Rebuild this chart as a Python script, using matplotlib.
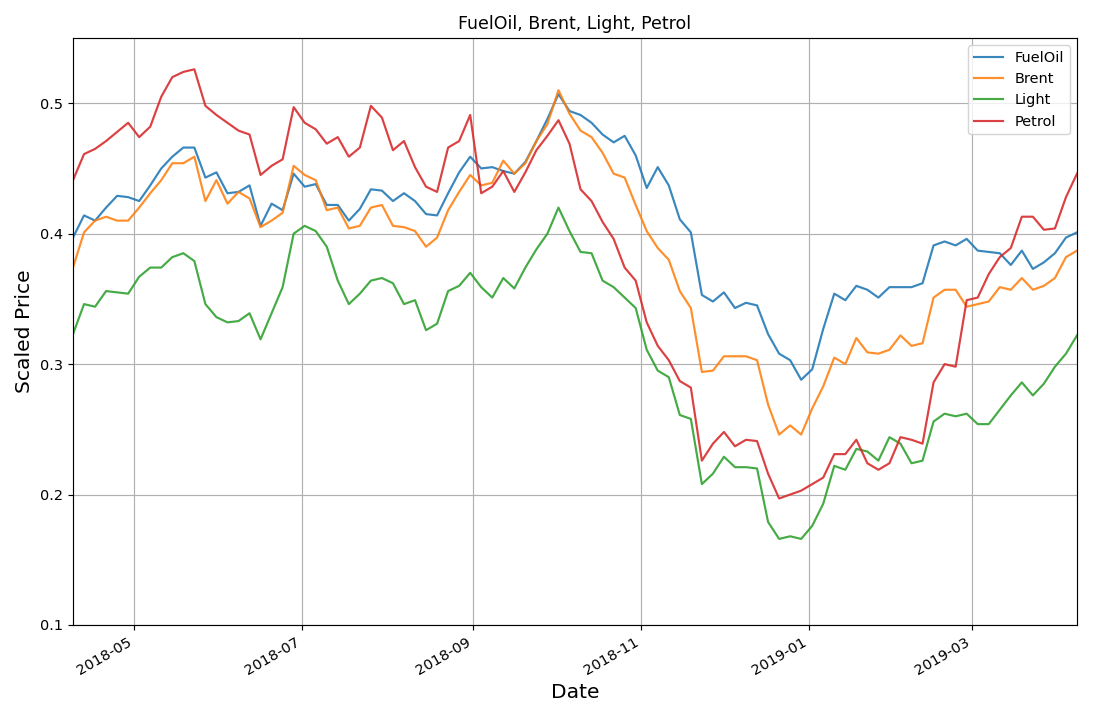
"""Scaled oil product prices, Apr 2018 - Apr 2019."""
import matplotlib

matplotlib.use("Agg")
import matplotlib.dates as mdates
import matplotlib.pyplot as plt
import numpy as np
import pandas as pd

# sampled every 4 days from 2018-04-09 to 2019-04-08
dates = pd.date_range("2018-04-09", periods=92, freq="4D")

fuel_oil = [
    0.397, 0.414, 0.410, 0.420, 0.429, 0.428, 0.425, 0.437, 0.450, 0.459,
    0.466, 0.466, 0.443, 0.447, 0.431, 0.432, 0.437, 0.406, 0.423, 0.418,
    0.446, 0.436, 0.438, 0.422, 0.422, 0.410, 0.419, 0.434, 0.433, 0.425,
    0.431, 0.425, 0.415, 0.414, 0.431, 0.447, 0.459, 0.450, 0.451, 0.448,
    0.446, 0.455, 0.471, 0.488, 0.507, 0.494, 0.491, 0.485, 0.476, 0.470,
    0.475, 0.460, 0.435, 0.451, 0.437, 0.411, 0.401, 0.353, 0.348, 0.355,
    0.343, 0.347, 0.345, 0.323, 0.308, 0.303, 0.288, 0.296, 0.327, 0.354,
    0.349, 0.360, 0.357, 0.351, 0.359, 0.359, 0.359, 0.362, 0.391, 0.394,
    0.391, 0.396, 0.387, 0.386, 0.385, 0.376, 0.387, 0.373, 0.378, 0.385,
    0.397, 0.401,
]
brent = [
    0.374, 0.401, 0.410, 0.413, 0.410, 0.410, 0.420, 0.431, 0.441, 0.454,
    0.454, 0.459, 0.425, 0.441, 0.423, 0.432, 0.427, 0.405, 0.410, 0.416,
    0.452, 0.445, 0.441, 0.418, 0.420, 0.404, 0.406, 0.420, 0.422, 0.406,
    0.405, 0.402, 0.390, 0.397, 0.418, 0.432, 0.445, 0.437, 0.439, 0.456,
    0.446, 0.454, 0.471, 0.484, 0.510, 0.492, 0.479, 0.474, 0.462, 0.446,
    0.443, 0.422, 0.402, 0.389, 0.380, 0.356, 0.343, 0.294, 0.295, 0.306,
    0.306, 0.306, 0.303, 0.269, 0.246, 0.253, 0.246, 0.266, 0.283, 0.305,
    0.300, 0.320, 0.309, 0.308, 0.311, 0.322, 0.314, 0.316, 0.351, 0.357,
    0.357, 0.344, 0.346, 0.348, 0.359, 0.357, 0.366, 0.357, 0.360, 0.366,
    0.382, 0.387,
]
light = [
    0.323, 0.346, 0.344, 0.356, 0.355, 0.354, 0.367, 0.374, 0.374, 0.382,
    0.385, 0.379, 0.346, 0.336, 0.332, 0.333, 0.339, 0.319, 0.339, 0.359,
    0.400, 0.406, 0.402, 0.390, 0.364, 0.346, 0.354, 0.364, 0.366, 0.362,
    0.346, 0.349, 0.326, 0.331, 0.356, 0.360, 0.370, 0.359, 0.351, 0.366,
    0.358, 0.374, 0.388, 0.400, 0.420, 0.402, 0.386, 0.385, 0.364, 0.359,
    0.351, 0.343, 0.311, 0.295, 0.290, 0.261, 0.258, 0.208, 0.216, 0.229,
    0.221, 0.221, 0.220, 0.179, 0.166, 0.168, 0.166, 0.176, 0.193, 0.222,
    0.219, 0.235, 0.233, 0.226, 0.244, 0.239, 0.224, 0.226, 0.256, 0.262,
    0.260, 0.262, 0.254, 0.254, 0.265, 0.276, 0.286, 0.276, 0.285, 0.298,
    0.308, 0.322,
]
petrol = [
    0.441, 0.461, 0.465, 0.471, 0.478, 0.485, 0.474, 0.482, 0.505, 0.520,
    0.524, 0.526, 0.498, 0.491, 0.485, 0.479, 0.476, 0.445, 0.452, 0.457,
    0.497, 0.485, 0.480, 0.469, 0.474, 0.459, 0.466, 0.498, 0.489, 0.464,
    0.471, 0.451, 0.436, 0.432, 0.466, 0.471, 0.491, 0.431, 0.436, 0.448,
    0.432, 0.447, 0.464, 0.475, 0.487, 0.469, 0.434, 0.425, 0.409, 0.396,
    0.374, 0.364, 0.332, 0.314, 0.303, 0.287, 0.282, 0.226, 0.239, 0.248,
    0.237, 0.242, 0.241, 0.216, 0.197, 0.200, 0.203, 0.208, 0.213, 0.231,
    0.231, 0.242, 0.224, 0.219, 0.224, 0.244, 0.242, 0.239, 0.286, 0.300,
    0.298, 0.349, 0.351, 0.369, 0.382, 0.389, 0.413, 0.413, 0.403, 0.404,
    0.428, 0.446,
]

series = {"FuelOil": fuel_oil, "Brent": brent, "Light": light, "Petrol": petrol}
colors = ["#1f77b4", "#ff7f0e", "#2ca02c", "#d62728"]

DPI = 104
fig = plt.figure(figsize=(1095 / DPI, 715 / DPI), dpi=DPI)
ax = fig.add_axes([73 / 1095, 90 / 715, 1004 / 1095, 587 / 715])

for (name, vals), c in zip(series.items(), colors):
    ax.plot(dates, np.array(vals), color=c, lw=1.5, alpha=0.88, label=name)

ax.set_xlim(dates[0], dates[-1])
ax.set_ylim(0.1, 0.55)
ax.set_yticks([0.1, 0.2, 0.3, 0.4, 0.5])
ax.xaxis.set_major_locator(mdates.MonthLocator(bymonth=[1, 3, 5, 7, 9, 11]))
ax.xaxis.set_major_formatter(mdates.DateFormatter("%Y-%m"))
for lbl in ax.get_xticklabels():
    lbl.set_rotation(30)
    lbl.set_ha("right")
ax.tick_params(labelsize=10)
ax.grid(True, color="#b0b0b0", lw=0.8)

ax.set_title("FuelOil, Brent, Light, Petrol", fontsize=12)
ax.set_xlabel("Date", fontsize=14)
ax.set_ylabel("Scaled Price", fontsize=14)
ax.legend(loc="upper right", fontsize=10)

fig.savefig("out.png", dpi=DPI)
